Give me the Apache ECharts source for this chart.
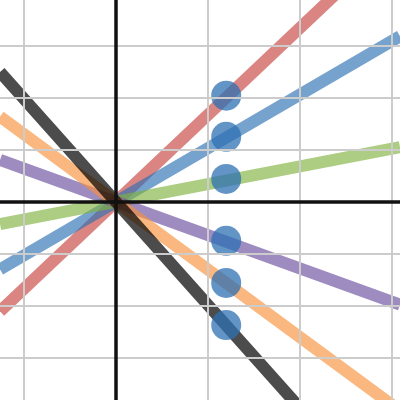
<!DOCTYPE html><html><head><script src="https://cdn.jsdelivr.net/npm/echarts@6/dist/echarts.min.js"></script></head><body style="margin:0"><div id="c" style="width:400px;height:400px"></div><script>
const xRange=[-1.26,3.09], yRange=[-3.88,3.81].map(v=>v).reverse().map(v=>-v);
const slopes=[1.67,1.03,0.34,-0.64,-1.3,-1.98];
const colors=['#c74440','#2d70b3','#7fb23f','#6a4f9e','#f7903a','#000000'];
const pointX=1.2;
const pointY=[2.04,1.25,0.44,-0.75,-1.56,-2.37];
const gridX=[-1,1,2,3], gridY=[-3,-2,-1,1,2,3];
const series=slopes.map((m,i)=>({type:'line',data:[[xRange[0],m*xRange[0]],[xRange[1],m*xRange[1]]],showSymbol:false,lineStyle:{color:colors[i],width:12,opacity:i==5?0.7:0.65,cap:'butt'},z:3,animation:false}));
series.unshift({type:'line',data:[],silent:true,markLine:{symbol:'none',silent:true,animation:false,label:{show:false},lineStyle:{color:'#ccc',width:2,type:'solid'},data:[...gridX.map(v=>({xAxis:v})),...gridY.map(v=>({yAxis:v}))]},z:1});
series.push({type:'line',data:[],silent:true,markLine:{symbol:'none',silent:true,animation:false,label:{show:false},lineStyle:{color:'#111',width:3.5,type:'solid'},data:[{xAxis:0},{yAxis:0}]},z:2});
series.push({type:'scatter',data:pointY.map(y=>[pointX,y]),symbolSize:30,itemStyle:{color:'#2d70b3',opacity:0.75},z:4,animation:false});
const ch=echarts.init(document.getElementById('c'));
ch.setOption({animation:false,grid:{left:0,right:0,top:0,bottom:0},
xAxis:{type:'value',min:xRange[0],max:xRange[1],show:false},
yAxis:{type:'value',min:-3.81,max:3.88,show:false},series});
</script></body></html>
